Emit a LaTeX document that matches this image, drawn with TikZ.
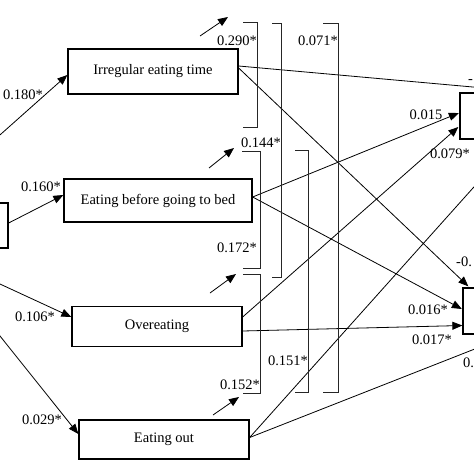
\documentclass[tikz,border=0pt]{standalone}
\usepackage{fontspec}
\setmainfont{Liberation Serif}
\usetikzlibrary{arrows.meta}
\begin{document}
\begin{tikzpicture}[x=1pt,y=-1pt,
  font=\fontsize{14.5}{16}\selectfont,
  box/.style={draw,line width=1.3pt,rectangle,inner sep=0pt,anchor=center},
  conn/.style={line width=0.8pt,-{Triangle[length=10pt,width=8pt]}},
  plain/.style={line width=0.8pt},
  brk/.style={line width=0.9pt,draw=black!85},
  lab/.style={inner sep=0pt}]
\useasboundingbox (0,0) rectangle (474,474);
\clip (0,0) rectangle (474,474);
% boxes
\node[box,minimum width=170pt,minimum height=45pt] (irr) at (153,71.5) {Irregular eating time};
\node[box,minimum width=188pt,minimum height=43pt] (bed) at (158,200.5) {Eating before going to bed};
\node[box,minimum width=170pt,minimum height=40pt] (over) at (157,326.5) {Overeating};
\node[box,minimum width=170pt,minimum height=39pt] (out) at (164,439.5) {Eating out};
\node[box,minimum width=58pt,minimum height=45pt] (src) at (-21,225.5) {};
\node[box,minimum width=70pt,minimum height=46pt] (o1) at (495,116) {};
\node[box,minimum width=70pt,minimum height=46pt] (o2) at (498,311) {};
% off-picture sources and targets
\coordinate (s1) at (-10,143.8);
\coordinate (s3) at (-10,279.4);
\coordinate (s4) at (-10,323.5);
\coordinate (t1) at (484,88);
\coordinate (t7) at (490,169);
\coordinate (t8) at (490,343);
% paths from the left
\draw[conn] (s1) -- ([yshift=-3.5pt]irr.west);
\draw[conn] ([yshift=2.5pt]src.east) -- ([yshift=5.5pt]bed.west);
\draw[conn] (s3) -- ([yshift=9.5pt]over.west);
\draw[conn] (s4) -- ([yshift=5.5pt]out.west);
% paths to the right
\draw[plain] ([yshift=5.5pt]irr.east) -- (t1);
\draw[conn] ([yshift=3.5pt]irr.east) -- ([xshift=6pt,yshift=1pt]o2.north west);
\draw[conn] ([yshift=3.5pt]bed.east) -- ([xshift=-0.5pt,yshift=3pt]o1.west);
\draw[conn] ([yshift=3.5pt]bed.east) -- ([xshift=-0.5pt,yshift=2pt]o2.west);
\draw[conn] ([yshift=9.5pt]over.east) -- ([xshift=-1pt,yshift=-11pt]o1.west);
\draw[conn] ([yshift=-4.5pt]over.east) -- ([yshift=-14.5pt]o2.west);
\draw[plain] ([yshift=2pt]out.east) -- (t7);
\draw[plain] ([yshift=2pt]out.east) -- (t8);
% residual arrows
\coordinate (r1a) at (200,36); \coordinate (r1b) at (228,17);
\coordinate (r2a) at (209,168); \coordinate (r2b) at (234,148);
\coordinate (r3a) at (210,293); \coordinate (r3b) at (236,274);
\coordinate (r4a) at (213,415); \coordinate (r4b) at (239,397);
\draw[conn] (r1a) -- (r1b);
\draw[conn] (r2a) -- (r2b);
\draw[conn] (r3a) -- (r3b);
\draw[conn] (r4a) -- (r4b);
% brackets
\draw[brk] (243,22) -- (257,22) -- (257,127) -- (243,127);
\draw[brk] (272,23) -- (281,23) -- (281,277) -- (272,277);
\draw[brk] (242,151) -- (260,151) -- (260,268) -- (243,268);
\draw[brk] (295,150) -- (308,150) -- (308,392) -- (295,392);
\draw[brk] (323,23) -- (338,23) -- (338,392) -- (323,392);
\draw[brk] (243,274) -- (260,274) -- (260,393) -- (243,393);
% labels
\node[lab] (l180) at (23,95) {0.180*};
\node[lab] (l160) at (41,187) {0.160*};
\node[lab] (l106) at (35,317) {0.106*};
\node[lab] (l029) at (42,420) {0.029*};
\node[lab] (l290) at (237,41) {0.290*};
\node[lab] (l144) at (261,143) {0.144*};
\node[lab] (l172) at (237,248) {0.172*};
\node[lab] (l152) at (240,385) {0.152*};
\node[lab] (l151) at (288,361) {0.151*};
\node[lab] (l071) at (318,41) {0.071*};
\node[lab] (l015) at (426,115) {0.015};
\node[lab] (l079) at (450,154) {0.079*};
\node[lab] (l016) at (428,310) {0.016*};
\node[lab] (l017) at (432,340) {0.017*};
\node[lab,anchor=west] (lm1) at (468,82) {-};
\node[lab,anchor=west] (lm2) at (456,262) {-0.};
\node[lab,anchor=west] (lm3) at (463,363) {0.};
\end{tikzpicture}
\end{document}
